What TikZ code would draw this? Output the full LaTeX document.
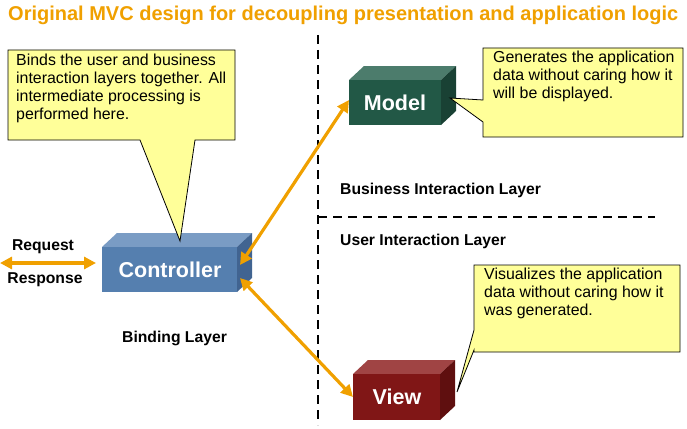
\documentclass[tikz,border=0pt]{standalone}
\usepackage{fontspec}
\setmainfont{Liberation Sans}
\usetikzlibrary{arrows.meta}
\definecolor{org}{HTML}{F0A000}
\definecolor{note}{HTML}{FFFF99}
\definecolor{cf}{RGB}{85,127,175}\definecolor{ct}{RGB}{122,156,196}\definecolor{cs}{RGB}{65,100,145}
\definecolor{mf}{RGB}{34,88,70}\definecolor{mt}{RGB}{76,124,108}\definecolor{ms}{RGB}{25,65,52}
\definecolor{vf}{RGB}{128,22,22}\definecolor{vt}{RGB}{160,68,68}\definecolor{vs}{RGB}{95,15,15}
\begin{document}
\begin{tikzpicture}[x=1pt,y=-1pt,
  callout/.style={fill=note,draw=black,line width=0.8pt},
  ctext/.style={anchor=north west,align=left,font=\fontsize{15.9}{18}\selectfont,inner sep=0pt},
  lbl/.style={font=\bfseries\fontsize{15.7}{18}\selectfont,inner sep=0pt},
  conn/.style={draw=org,line width=3.2pt,{Triangle[length=12pt,width=12pt]}-{Triangle[length=12pt,width=12pt]}},
  dsh/.style={line width=1.5pt,dash pattern=on 9pt off 6pt},
  btext/.style={font=\bfseries\fontsize{21.5}{24}\selectfont,text=white}]
\useasboundingbox (0,0) rectangle (687,428);
% title
\node[anchor=west,text=org,font=\bfseries\fontsize{20}{22}\selectfont,inner sep=0pt] (title) at (8,15) {Original MVC design for decoupling presentation and application logic};
% dashed lines
\draw[dsh] (318,35) -- (318,425);
\draw[dsh] (318,217) -- (655,217);
% boxes
\newcommand{\mybox}[7]{% x1 y1 x2 y2 front top side
  \fill[#6] (#1,#2) -- (#1+15,#2-14) -- (#3+15,#2-14) -- (#3,#2) -- cycle;
  \fill[#7] (#3,#2) -- (#3+15,#2-14) -- (#3+15,#4-14) -- (#3,#4) -- cycle;
  \fill[#5] (#1,#2) rectangle (#3,#4);}
\mybox{102}{247}{237}{292}{cf}{ct}{cs}
\node[btext] (ctrl) at (170,269.5) {Controller};
\mybox{349}{80}{441}{125}{mf}{mt}{ms}
\node[btext] (model) at (395,102.5) {Model};
\mybox{353}{374}{440}{420}{vf}{vt}{vs}
\node[btext] (view) at (397,397) {View};
\coordinate (cR1) at (240,265);
\coordinate (cR2) at (240,278);
\coordinate (mL) at (349,100);
\coordinate (vL) at (353,397);
\coordinate (lend) at (0,263);
\coordinate (cL) at (96,263);
% connectors
\draw[conn] (cR1) -- (mL);
\draw[conn] (cR2) -- (vL);
\draw[conn] (lend) -- (cL);
% callouts
\draw[callout] (8,50) -- (235,50) -- (235,140) -- (195,140) -- (180,241) -- (140,140) -- (8,140) -- cycle;
\node[ctext] (n1) at (16,54) {Binds the user and business\\interaction layers together. All\\intermediate processing is\\performed here.};
\draw[callout] (483,48) -- (683,48) -- (683,137) -- (483,137) -- (483,122) -- (450,98) -- (483,100) -- cycle;
\node[ctext] (n2) at (493,51) {Generates the application\\data without caring how it\\will be displayed.};
\draw[callout] (474,265) -- (680,265) -- (680,352) -- (474,352) -- (474,350) -- (457,392) -- (474,330) -- cycle;
\node[ctext] (n3) at (484,268) {Visualizes the application\\data without caring how it\\was generated.};
% labels
\node[lbl,anchor=west] (bil) at (340,190) {Business Interaction Layer};
\node[lbl,anchor=west] (uil) at (340,241) {User Interaction Layer};
\node[lbl,anchor=west] (bl) at (122,338) {Binding Layer};
\node[lbl] (req) at (43,247) {Request};
\node[lbl] (resp) at (45,280) {Response};
\end{tikzpicture}
\end{document}
